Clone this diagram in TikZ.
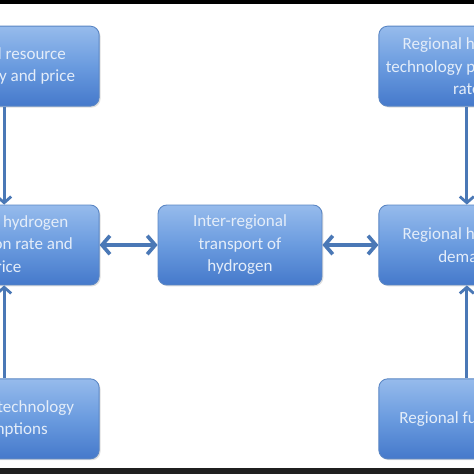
\documentclass[tikz,border=0pt]{standalone}
\usepackage{fontspec}
\setmainfont{Carlito}
\usetikzlibrary{positioning}
\usetikzlibrary{arrows.meta}
\usetikzlibrary{shadows}
\definecolor{boxtop}{HTML}{96BBEC}
\definecolor{boxmid}{HTML}{6A9BDF}
\definecolor{boxbot}{HTML}{4579CB}
\definecolor{boxline}{HTML}{5A86C4}
\definecolor{linkblue}{HTML}{4A78B6}
\definecolor{boxtext}{HTML}{E4EDF9}

\begin{document}
\begin{tikzpicture}[x=0.02cm, y=0.02cm,
	box/.style={draw=boxline, line width=0.5pt, rounded corners=5pt, top color=boxtop, bottom color=boxbot, middle color=boxmid,
		drop shadow={opacity=0.25, shadow xshift=0.8pt, shadow yshift=-0.8pt},
		align=center, minimum height=1.6cm, text=boxtext, font=\fontsize{9.7}{12.8}\selectfont},
	link/.style={draw=linkblue, line width=2.1pt, {Straight Barb[length=4.5pt, width=10.5pt]}-{Straight Barb[length=4.5pt, width=10.5pt]}},
	vlink/.style={draw=linkblue, line width=1.6pt, -{Straight Barb[length=3.5pt, width=8pt]}}]
		
		\clip (0,0) rectangle (474,-474);
		\fill[white] (0,0) rectangle (474,-474);
		
		\node[box, minimum width=3.28cm] (TRANS) at (240,-245) {Inter-regional\\transport of\\hydrogen};
		\node[box, minimum width=3.8cm, left=1.16cm of TRANS] (PROD) {Regional hydrogen\\production rate and\\price};
		\node[box, minimum width=3.52cm, right=1.12cm of TRANS] (DEM) {Regional hydrogen\\demand};
		\node[box, minimum width=3.8cm, above=1.96cm of PROD] (RES) {Regional resource\\availability and price};
		\node[box, minimum width=3.8cm, below=1.86cm of PROD] (TECH) {Regional technology\\assumptions};
		\node[box, minimum width=3.52cm, above=1.96cm of DEM] (PEN) {Regional hydrogen\\technology penetration\\rate};
		\node[box, minimum width=3.52cm, below=1.86cm of DEM] (FUEL) {Regional fuel prices};
		
		\draw[link] (PROD) -- (TRANS);
		\draw[link] (TRANS) -- (DEM);
		\draw[vlink] (RES) -- (PROD);
		\draw[vlink] (TECH) -- (PROD);
		\draw[vlink] (PEN) -- (DEM);
		\draw[vlink] (FUEL) -- (DEM);
		
		\fill[black] (0,0) rectangle (474,-4);
		\fill[black!88] (0,-468) rectangle (474,-474);
		\end{tikzpicture}
\end{document}
